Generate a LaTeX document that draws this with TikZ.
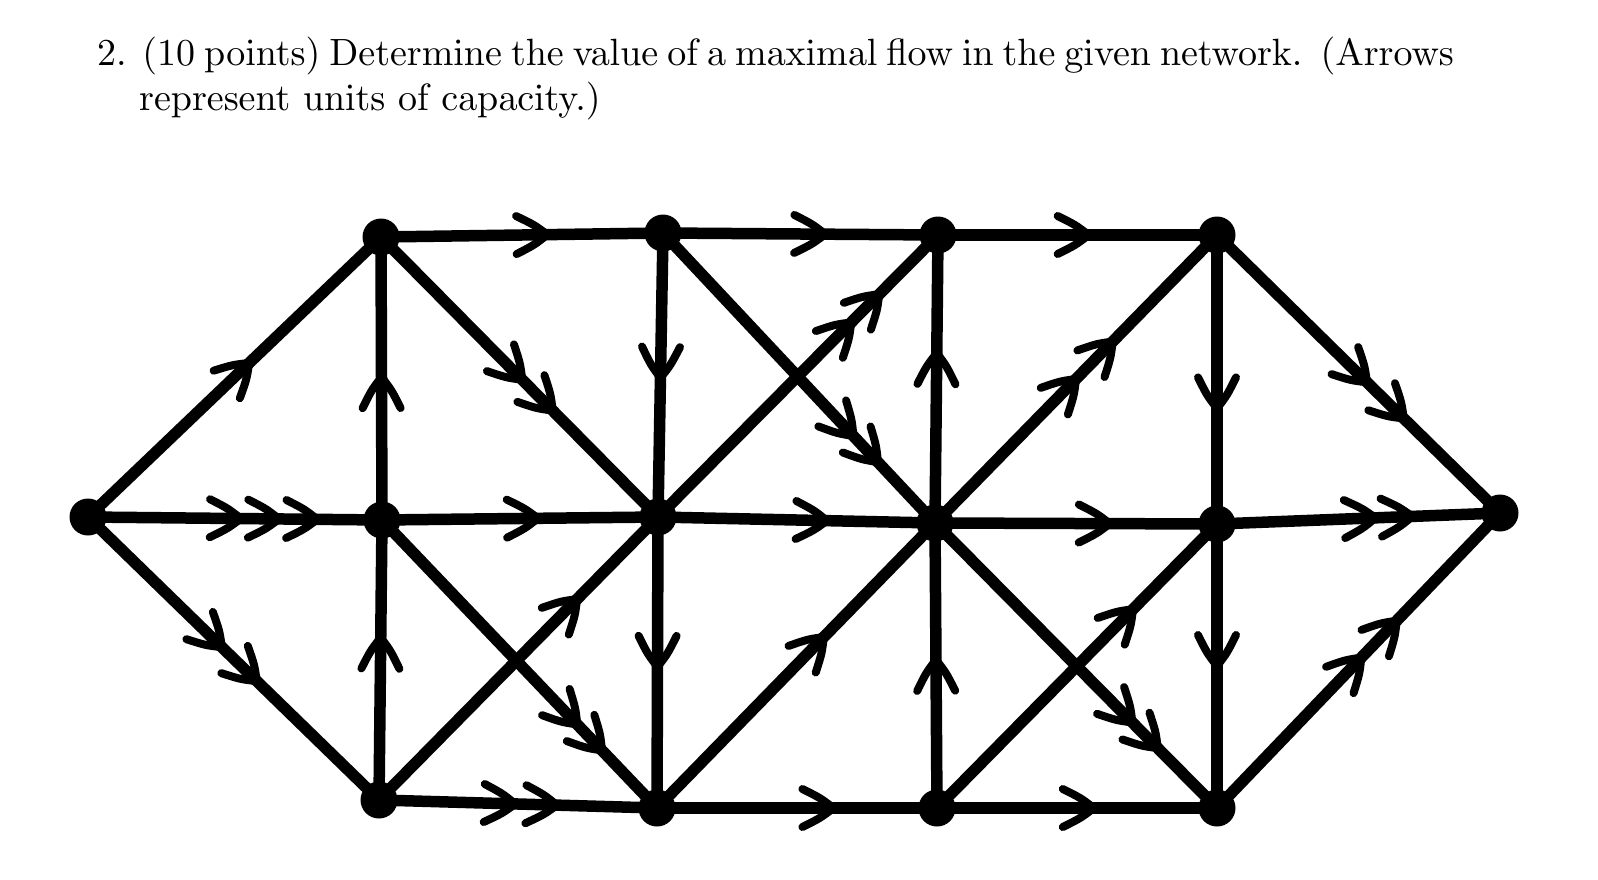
\documentclass[tikz,border=0pt]{standalone}
\usetikzlibrary{decorations.markings}
\font\qfont=cmr10 at 38pt
\pgfdeclarelayer{bg}
\pgfsetlayers{bg,main}
\tikzset{
  edge/.style={line width=11.5pt, line cap=round},
  chev/.style={postaction={decorate, decoration={markings,
      mark=at position #1 with {\draw[line width=8pt, line cap=round, line join=round]
        (-31pt,19pt) .. controls (-13pt,10pt) .. (0pt,0pt) .. controls (-13pt,-10pt) .. (-31pt,-19pt);}}}},
  dot/.style={circle, fill=black, inner sep=0pt, minimum size=37pt},
  txt/.style={anchor=base west, inner sep=0pt, font=\qfont},
}
\begin{document}
\begin{tikzpicture}[x=1pt, y=-1pt]
\useasboundingbox (0,0) rectangle (1598,880);
\node[txt] (l1) at (97,66) {\makebox[1358pt][s]{2. (10 points) Determine the value of a maximal flow in the given network.\ \ (Arrows}};
\node[txt] (l2) at (139,111) {represent units of capacity.)};
\node[dot] (s)  at (88,517) {};
\node[dot] (A1) at (381,237) {};
\node[dot] (A2) at (663,233) {};
\node[dot] (A3) at (938,235) {};
\node[dot] (A4) at (1217,235) {};
\node[dot] (B1) at (382,520) {};
\node[dot] (B2) at (658,517) {};
\node[dot] (B3) at (935,523) {};
\node[dot] (B4) at (1217,524) {};
\node[dot] (C1) at (379,800) {};
\node[dot] (C2) at (657,808) {};
\node[dot] (C3) at (937,808) {};
\node[dot] (C4) at (1217,808) {};
\node[dot] (t)  at (1500,513) {};
\begin{pgfonlayer}{bg}
\draw[edge, chev=0.55] (s.center) -- (A1.center);
\draw[edge, chev=0.52, chev=0.65, chev=0.78] (s.center) -- (B1.center);
\draw[edge, chev=0.46, chev=0.58] (s.center) -- (C1.center);
\draw[edge, chev=0.59] (A1.center) -- (A2.center);
\draw[edge, chev=0.59] (A2.center) -- (A3.center);
\draw[edge, chev=0.54] (A3.center) -- (A4.center);
\draw[edge, chev=0.505] (B1.center) -- (A1.center);
\draw[edge, chev=0.58] (C1.center) -- (B1.center);
\draw[edge, chev=0.51, chev=0.62] (A1.center) -- (B2.center);
\draw[edge, chev=0.565] (B1.center) -- (B2.center);
\draw[edge, chev=0.71] (C1.center) -- (B2.center);
\draw[edge, chev=0.71, chev=0.80] (B1.center) -- (C2.center);
\draw[edge, chev=0.51] (A2.center) -- (B2.center);
\draw[edge, chev=0.515] (B2.center) -- (C2.center);
\draw[edge, chev=0.69, chev=0.79] (B2.center) -- (A3.center);
\draw[edge, chev=0.70, chev=0.79] (A2.center) -- (B3.center);
\draw[edge, chev=0.61] (B2.center) -- (B3.center);
\draw[edge, chev=0.60] (C2.center) -- (B3.center);
\draw[edge, chev=0.59] (B3.center) -- (A3.center);
\draw[edge, chev=0.52] (C3.center) -- (B3.center);
\draw[edge, chev=0.50, chev=0.63] (B3.center) -- (A4.center);
\draw[edge, chev=0.62] (B3.center) -- (B4.center);
\draw[edge, chev=0.70] (C3.center) -- (B4.center);
\draw[edge, chev=0.70, chev=0.79] (B3.center) -- (C4.center);
\draw[edge, chev=0.49, chev=0.64] (C1.center) -- (C2.center);
\draw[edge, chev=0.63] (C2.center) -- (C3.center);
\draw[edge, chev=0.56] (C3.center) -- (C4.center);
\draw[edge, chev=0.60] (A4.center) -- (B4.center);
\draw[edge, chev=0.50] (B4.center) -- (C4.center);
\draw[edge, chev=0.53, chev=0.66] (A4.center) -- (t.center);
\draw[edge, chev=0.56, chev=0.69] (B4.center) -- (t.center);
\draw[edge, chev=0.51, chev=0.635] (C4.center) -- (t.center);
\end{pgfonlayer}
\end{tikzpicture}
\end{document}
